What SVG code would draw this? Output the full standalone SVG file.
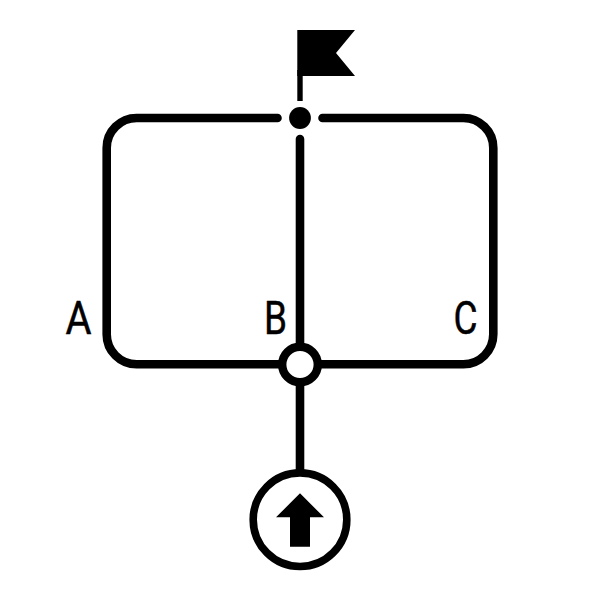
<svg xmlns="http://www.w3.org/2000/svg" width="600" height="600" viewBox="0 0 600 600">
<style>
.l{fill:none;stroke:#000;stroke-width:8.6;stroke-linecap:round}
.t{font-family:Roboto,"Liberation Sans",sans-serif;font-size:47px;fill:#000;stroke:#000;stroke-width:.5;text-anchor:middle}
</style>
<rect width="600" height="600" fill="#fff"/>
<g id="connectors">
<path class="l" d="M277.5 118H137A30 30 0 0 0 106.7 148V334A30 30 0 0 0 137 364.3H463A30 30 0 0 0 493.3 334V148A30 30 0 0 0 463 118H322.5"/>
<path class="l" d="M300 139V364"/>
<path class="l" style="stroke-linecap:butt" d="M300 364V480"/>
<path class="l" style="stroke-linecap:butt;stroke-width:5.4" d="M300 70V101"/>
</g>
<g id="flag"><polygon points="297.3,30 355,30 336,53 355,76 297.3,76"/></g>
<g id="top-dot"><circle cx="300" cy="118" r="10.9"/></g>
<g id="junction"><circle cx="300" cy="364.5" r="17.8" fill="#fff" stroke="#000" stroke-width="8.4"/></g>
<g id="start"><circle cx="300" cy="519.7" r="46.8" fill="#fff" stroke="#000" stroke-width="7.6"/>
<polygon points="300,493.3 324,517.3 310,517.3 310,546.7 290,546.7 290,517.3 276,517.3"/></g>
<g id="label-a"><text class="t" x="78.5" y="334" textLength="26" lengthAdjust="spacingAndGlyphs">A</text></g>
<g id="label-b"><text class="t" x="275.5" y="334" textLength="23" lengthAdjust="spacingAndGlyphs">B</text></g>
<g id="label-c"><text class="t" x="465.5" y="334" textLength="24" lengthAdjust="spacingAndGlyphs">C</text></g>
</svg>
